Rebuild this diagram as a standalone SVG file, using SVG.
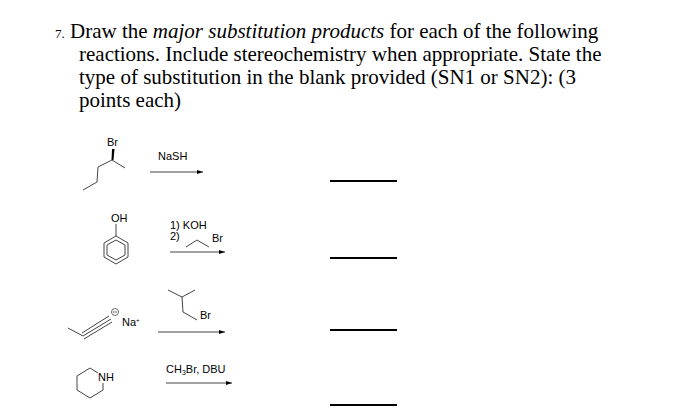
<svg xmlns="http://www.w3.org/2000/svg" width="700" height="420" viewBox="0 0 700 420">
<defs>
<marker id="ah" markerWidth="6" markerHeight="4" refX="6" refY="2" orient="auto"><path d="M0,0 L6,2 L0,4 z" fill="#000"/></marker>
<style>
.q{font-family:"Liberation Serif",serif;font-size:21px;fill:#000}
.s{font-family:"Liberation Sans",Arial,sans-serif;font-size:11px;fill:#000}
.b{stroke:#444;stroke-width:1;fill:none}
.a{stroke:#444;stroke-width:1;marker-end:url(#ah)}
.blank{stroke:#000;stroke-width:2}
</style>
</defs>
<rect width="700" height="420" fill="#fff"/>
<g id="question">
<text class="q" x="55" y="38"><tspan font-size="13">7.</tspan> Draw the <tspan font-style="italic">major substitution products</tspan> for each of the following</text>
<text class="q" x="79" y="61">reactions. Include stereochemistry when appropriate. State the</text>
<text class="q" x="79" y="84">type of substitution in the blank provided (SN1 or SN2): (3</text>
<text class="q" x="79" y="107">points each)</text>
</g>
<g id="r1">
<text class="s" x="107" y="146" font-size="9">Br</text>
<path d="M112,149 L114.5,149 L113.5,160 L111.5,160 z" fill="#000"/>
<polyline class="b" points="125,168 112,160 98,167 97,182 83,190"/>
<text class="s" x="158" y="160">NaSH</text>
<line class="a" x1="150" y1="172" x2="203" y2="172"/>
</g>
<g id="r2">
<text class="s" x="111" y="222" font-size="9">OH</text>
<line class="b" x1="116" y1="224" x2="116" y2="236"/>
<polygon class="b" points="116,236 128,243 128,257 116,264 104,257 104,243"/>
<polygon class="b" points="116,240 125,245 125,255 116,260 107,255 107,245"/>
<text class="s" x="170" y="229">1) KOH</text>
<text class="s" x="170" y="240">2)</text>
<polyline class="b" points="186,247 197,240 209,247"/>
<text class="s" x="212" y="242">Br</text>
<line class="a" x1="170" y1="252" x2="225" y2="252"/>
</g>
<g id="r3">
<polyline class="b" points="68,328 83,336"/>
<line class="b" x1="83" y1="336" x2="111" y2="319"/>
<line class="b" x1="82" y1="333" x2="109" y2="316"/>
<line class="b" x1="84" y1="339" x2="112" y2="322"/>
<circle cx="115" cy="312" r="3.5" fill="none" stroke="#444" stroke-width="0.8"/>
<line x1="113" y1="312" x2="117" y2="312" stroke="#444" stroke-width="0.8"/>
<text class="s" x="122" y="326">Na<tspan font-size="6" dy="-4">+</tspan></text>
<polyline class="b" points="168,290 182,297 195,290"/>
<polyline class="b" points="182,297 183,312 197,320"/>
<text class="s" x="200" y="319">Br</text>
<line class="a" x1="158" y1="332" x2="225" y2="332"/>
</g>
<g id="r4">
<polyline class="b" points="98,373 90,368 77,376 77,390 90,398 103,390 103,383"/>
<text class="s" x="98" y="381" font-size="10">NH</text>
<text class="s" x="166" y="373">CH<tspan font-size="7" dy="2">3</tspan><tspan dy="-2">Br, DBU</tspan></text>
<line class="a" x1="166" y1="383" x2="232" y2="383"/>
</g>
<g id="blanks">
<line class="blank" x1="330" y1="181" x2="397" y2="181"/>
<line class="blank" x1="330" y1="258" x2="397" y2="258"/>
<line class="blank" x1="330" y1="330" x2="397" y2="330"/>
<line class="blank" x1="330" y1="405" x2="397" y2="405"/>
</g>
</svg>
